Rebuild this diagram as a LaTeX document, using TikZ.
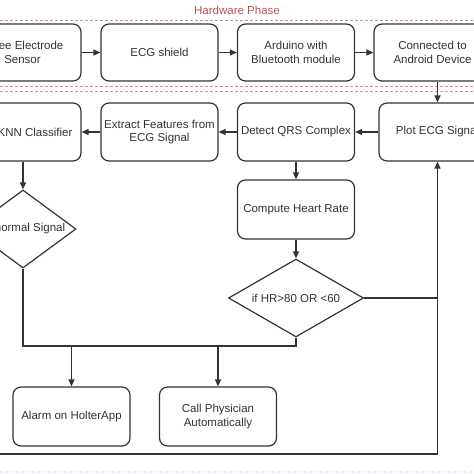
\documentclass[tikz,border=0pt]{standalone}
\usepackage{fontspec}
\setmainfont{Liberation Sans}
\usetikzlibrary{shapes.geometric, arrows.meta, positioning}
\definecolor{phasered}{HTML}{B85450}
\definecolor{linegray}{HTML}{333333}

\begin{document}
\begin{tikzpicture}[x=1pt, y=-1pt,
    every node/.style={font=\fontsize{11.5}{13.5}\selectfont, text=linegray},
    stepbox/.style={draw=linegray, line width=1.2pt, rectangle, rounded corners=8pt, align=center, minimum width=117pt, minimum height=58pt, inner sep=1pt, fill=white},
    decision/.style={draw=linegray, line width=1.2pt, diamond, align=center, inner sep=0pt, fill=white},
    arr/.style={draw=linegray, line width=1.2pt, -{Triangle[length=7pt, width=6pt]}},
    link/.style={draw=linegray, line width=1.2pt},
    phaseline/.style={draw=phasered!65, line width=0.8pt, dash pattern=on 3pt off 2pt}
]
    \useasboundingbox (0,0) rectangle (474,474);
    \clip (0,0) rectangle (474,474);

    % Hardware phase frame
    \node (hwphase) [text=phasered] at (237,10) {Hardware Phase};
    \draw [phaseline] (0,20) -- (474,20);
    \draw [phaseline] (0,86) -- (474,86);
    \draw [phaseline] (0,91) -- (474,91);
    \draw [draw=blue!12, dotted, line width=1.2pt] (0,472) -- (474,472);

    % Hardware row
    \node (sensor)  [stepbox, minimum height=57pt] at (22.5,52.5)  {Three Electrode\\Sensor};
    \node (shield)  [stepbox, minimum height=57pt] at (159.5,52.5) {ECG shield};
    \node (arduino) [stepbox, minimum height=57pt] at (296,52.5)   {Arduino with\\Bluetooth module};
    \node (android) [stepbox, minimum height=57pt] at (432.5,52.5) {Connected to\\Android Device};

    % Software row
    \node (plot)    [stepbox] at (437.5,132) {Plot ECG Signal};
    \node (qrs)     [stepbox] at (296,132)   {Detect QRS Complex};
    \node (extract) [stepbox] at (159.5,132) {Extract Features from\\ECG Signal};
    \node (knn)     [stepbox, minimum width=92pt] at (35,132) {KNN Classifier};

    \node (heartrate) [stepbox, minimum height=59pt] at (296,209.5) {Compute Heart Rate};
    \node (hrcheck)  [decision, aspect=1.73, minimum width=135pt, minimum height=78pt] at (296,298) {if HR>80 OR <60};
    \node (abnormal) [decision, aspect=1.36, minimum width=106pt, minimum height=78pt] at (23,229) {Abnormal Signal};

    % Actions
    \node (alarm) [stepbox, minimum height=59pt] at (71.5,416.5) {Alarm on HolterApp};
    \node (call)  [stepbox, minimum height=59pt] at (218,416.5)  {Call Physician\\Automatically};

    % Connections
    \draw [arr] (sensor) -- (shield);
    \draw [arr] (shield) -- (arduino);
    \draw [arr] (arduino) -- (android);
    \draw [arr] (plot.north |- android.south) -- (plot.north);

    \draw [arr] (plot) -- (qrs);
    \draw [arr] (qrs) -- (extract);
    \draw [arr] (extract) -- (knn);
    \draw [arr] (qrs) -- (heartrate);
    \draw [arr] (heartrate) -- (hrcheck);
    \draw [arr] (abnormal.north |- knn.south) -- (abnormal.north);

    \coordinate (merge) at (23,346);
    \draw [link] (abnormal.south) -- (merge) -| (hrcheck.south);
    \draw [arr] (alarm.north |- merge) -- (alarm);
    \draw [arr] (call.north |- merge) -- (call);

    \coordinate (loop) at (-45,454);
    \draw [arr] (abnormal.west) -| (loop) -| (plot.south);
    \draw [link] (hrcheck.east) -- (hrcheck.east -| plot.south);

\end{tikzpicture}
\end{document}
